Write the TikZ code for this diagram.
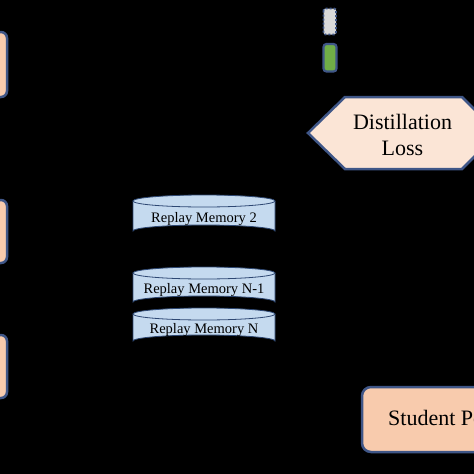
\documentclass[tikz,border=0pt]{standalone}
\usepackage{fontspec}
\setmainfont{Liberation Serif}
\definecolor{bord}{HTML}{3F5687}
\definecolor{peach}{HTML}{F8CBAD}
\definecolor{lpeach}{HTML}{FBE5D6}
\definecolor{cylfill}{HTML}{C5DAEF}
\definecolor{cylbord}{HTML}{2E4873}
\definecolor{grn}{HTML}{70AD47}
\definecolor{gry}{HTML}{D9D9D9}
\tikzset{
  peachbox/.style={fill=peach,draw=bord,line width=2.5pt,rounded corners=6pt},
  hexbox/.style={fill=lpeach,draw=bord,line width=2.5pt,line join=miter},
  cylbox/.style={fill=cylfill,draw=cylbord,line width=0.8pt},
  cyltext/.style={inner sep=0pt,font=\fontsize{14.5}{16}\selectfont},
  bigtext/.style={inner sep=0pt,align=center,font=\fontsize{22}{25.5}\selectfont},
}
\begin{document}
\begin{tikzpicture}[x=1pt,y=-1pt]
\fill[black] (0,0) rectangle (474,474);
\useasboundingbox (0,0) rectangle (474,474);
\clip (0,0) rectangle (474,474);
% left boxes (cut off)
\draw[peachbox] (-60,32) rectangle (7,97);
\draw[peachbox] (-60,200) rectangle (7,263);
\draw[peachbox] (-60,335) rectangle (7,398);
% legend icons
\draw[fill=gry,draw=bord,line width=1.8pt,dash pattern=on 2pt off 2pt,rounded corners=2pt] (323.5,8.5) rectangle (336,34.5);
\draw[fill=grn,draw=bord,line width=2.2pt,rounded corners=3pt] (323.5,44) rectangle (336.5,71.5);
% distillation loss hexagon
\draw[hexbox] (308,133) -- (345,97) -- (462,97) -- (498,133) -- (462,169) -- (345,169) -- cycle;
\node[bigtext] (dl) at (402.5,135) {Distillation\\Loss};
% cylinders
\foreach \t/\b/\lab/\nm in {195/237/{Replay Memory 2}/m2, 267/308/{Replay Memory N-1}/mn1, 308/347/{Replay Memory N}/mn}{
  \draw[cylbox] (133,\t+6) -- (133,\b-6) arc[start angle=180,end angle=360,x radius=71,y radius=6] -- (275,\t+6);
  \draw[cylbox] (204,\t+6) ellipse[x radius=71,y radius=6];
  \node[cyltext] (\nm) at (204,{(\t+\b)/2+3}) {\lab};
}
% student policy
\draw[peachbox,rounded corners=9pt] (362,387) rectangle (560,452);
\node[inner sep=0pt,anchor=west,font=\fontsize{22}{25}\selectfont] (sp) at (388,420) {Student Policy};
\end{tikzpicture}
\end{document}
